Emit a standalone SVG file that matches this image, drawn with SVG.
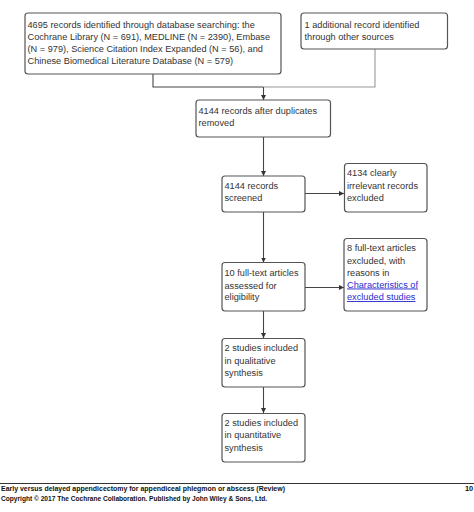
<svg xmlns="http://www.w3.org/2000/svg" width="474" height="512" viewBox="0 0 474 512">
<style>
.box{fill:#fff;stroke:#555;stroke-width:1.2}
.t{font-family:"Liberation Sans",Arial,sans-serif;font-size:9.2px;fill:#333}
.lnk{fill:#2b2bd0;text-decoration:underline}
.c{fill:none;stroke:#444;stroke-width:1.1}
.c2{fill:none;stroke:#999;stroke-width:1.1}
.f{font-family:"Liberation Sans",Arial,sans-serif;font-size:7.4px;font-weight:bold;fill:#111}
</style>
<defs>
<marker id="ah" viewBox="0 0 6 6" refX="6" refY="3" markerWidth="5" markerHeight="5" orient="auto" markerUnits="userSpaceOnUse">
<path d="M0,0 L6,3 L0,6 z" fill="#333"/>
</marker>
</defs>
<rect width="474" height="512" fill="#fff"/>
<g id="connectors">
<path class="c" d="M153,74 V87 H263"/>
<path class="c2" d="M375,49 V87 H263"/>
<path class="c" d="M263.5,87 V100" marker-end="url(#ah)"/>
<path class="c" d="M263.5,137 V176" marker-end="url(#ah)"/>
<path class="c" d="M305,193.5 H344" marker-end="url(#ah)"/>
<path class="c" d="M263.5,212 V262.5" marker-end="url(#ah)"/>
<path class="c" d="M305,287.5 H344" marker-end="url(#ah)"/>
<path class="c" d="M263.5,311 V338" marker-end="url(#ah)"/>
<path class="c" d="M263.5,387 V413" marker-end="url(#ah)"/>
</g>
<g id="n1">
<rect class="box" x="25" y="13" width="256" height="61" rx="3"/>
<text class="t" x="27.5" y="27.5">4695 records identified through database searching: the</text>
<text class="t" x="27.5" y="39.5">Cochrane Library (N = 691), MEDLINE (N = 2390), Embase</text>
<text class="t" x="27.5" y="51.5">(N = 979), Science Citation Index Expanded (N = 56), and</text>
<text class="t" x="27.5" y="63.5">Chinese Biomedical Literature Database (N = 579)</text>
</g>
<g id="n2">
<rect class="box" x="301" y="13" width="146.5" height="36" rx="3"/>
<text class="t" x="304.5" y="27.5">1 additional record identified</text>
<text class="t" x="304.5" y="39.5">through other sources</text>
</g>
<g id="n3">
<rect class="box" x="196" y="100" width="134.5" height="37" rx="3"/>
<text class="t" x="198.5" y="113.5">4144 records after duplicates</text>
<text class="t" x="198.5" y="126">removed</text>
</g>
<g id="n4">
<rect class="box" x="222" y="176" width="83" height="36" rx="3"/>
<text class="t" x="224.5" y="188.5">4144 records</text>
<text class="t" x="224.5" y="201">screened</text>
</g>
<g id="n5">
<rect class="box" x="344.5" y="163.5" width="82.5" height="48.5" rx="3"/>
<text class="t" x="347" y="176">4134 clearly</text>
<text class="t" x="347" y="188.5">irrelevant records</text>
<text class="t" x="347" y="200.5">excluded</text>
</g>
<g id="n6">
<rect class="box" x="222" y="262.5" width="83" height="48.5" rx="3"/>
<text class="t" x="224.5" y="276">10 full-text articles</text>
<text class="t" x="224.5" y="288.5">assessed for</text>
<text class="t" x="224.5" y="300">eligibility</text>
</g>
<g id="n7">
<rect class="box" x="344" y="238.5" width="83" height="72.5" rx="3"/>
<text class="t" x="347" y="251">8 full-text articles</text>
<text class="t" x="347" y="263.5">excluded, with</text>
<text class="t" x="347" y="275.5">reasons in</text>
<text class="t lnk" x="347" y="287.5">Characteristics of</text>
<text class="t lnk" x="347" y="300">excluded studies</text>
</g>
<g id="n8">
<rect class="box" x="222" y="338.5" width="83" height="48.5" rx="3"/>
<text class="t" x="224.5" y="350.5">2 studies included</text>
<text class="t" x="224.5" y="363.5">in qualitative</text>
<text class="t" x="224.5" y="375.5">synthesis</text>
</g>
<g id="n9">
<rect class="box" x="222" y="413.5" width="83" height="48.5" rx="3"/>
<text class="t" x="224.5" y="425.5">2 studies included</text>
<text class="t" x="224.5" y="438">in quantitative</text>
<text class="t" x="224.5" y="450.5">synthesis</text>
</g>
<g id="footer">
<line x1="0" y1="483.5" x2="474" y2="483.5" stroke="#333" stroke-width="1.2"/>
<text class="f" x="1" y="491" textLength="284" lengthAdjust="spacingAndGlyphs">Early versus delayed appendicectomy for appendiceal phlegmon or abscess (Review)</text>
<text class="f" x="465" y="491">10</text>
<text class="f" x="1" y="500.5" textLength="266" lengthAdjust="spacingAndGlyphs">Copyright © 2017 The Cochrane Collaboration. Published by John Wiley &amp; Sons, Ltd.</text>
</g>
</svg>
